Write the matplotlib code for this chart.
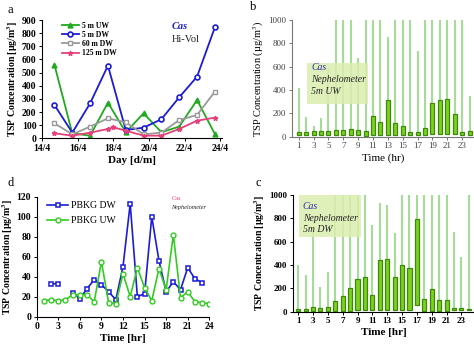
import numpy as np
import matplotlib
matplotlib.use('Agg')
import matplotlib.pyplot as plt
import matplotlib.patches as patches

plt.rcParams['font.family'] = ['Liberation Serif', 'DejaVu Serif']
plt.rcParams['mathtext.fontset'] = 'stix'

# ---- panel a : Hi-Vol daily TSP ----
days = [14.7, 15.7, 16.7, 17.7, 18.7, 19.7, 20.7, 21.7, 22.7, 23.7]
uw5 = [558, 38, 20, 271, 46, 190, 46, 89, 291, 33]
dw5 = [253, 43, 266, 553, 63, 81, 145, 312, 469, 844]
dw60 = [114, 30, 89, 152, 122, 30, 43, 139, 177, 355]
days125 = [14.7, 15.7, 16.7, 17.7, 18.0, 18.7, 19.7, 20.7, 21.7, 22.7, 23.7]
dw125 = [38, 20, 43, 71, 84, 58, 20, 20, 71, 134, 157]
day_ticks = [14, 16, 18, 20, 22, 24]
day_labels = ['14/4', '16/4', '18/4', '20/4', '22/4', '24/4']

# ---- panel b / c : nephelometer hourly box-whisker ----
hours = np.arange(1, 25)
b_top = [43, 40, 46, 46, 51, 54, 57, 66, 57, 51, 177, 128, 314, 115, 92, 37,
         37, 77, 286, 314, 320, 194, 37, 49]
b_low = [14, 14, 14, 14, 14, 16, 16, 16, 16, 5, 18, 18, 18, 18, 18, 14,
         14, 18, 20, 20, 20, 20, 14, 16]
b_whisk = [415, 166, 92, 157, 586, 1000, 1000, 1000, 672, 1000, 1000, 1000,
           857, 1000, 1000, 1000, 734, 1000, 1000, 1000, 1000, 1000, 1000, 351]

c_top = [20, 20, 40, 35, 40, 88, 134, 207, 277, 298, 141, 443, 452, 300,
         400, 377, 792, 106, 194, 100, 100, 35, 28, 22]
c_low = [5, 5, 5, 5, 5, 8, 10, 10, 12, 12, 12, 12, 12, 12, 12, 12, 57, 10,
         10, 10, 10, 15, 15, 15]
c_whisk = [400, 314, 720, 214, 343, 1000, 1000, 1000, 1000, 1000, 745, 930,
           913, 674, 1000, 1000, 1000, 1000, 1000, 1000, 1000, 686, 471, 1000]

# ---- panel d : PBKG hourly ----
hr_d = np.arange(1, 25)
pbkg_dw = [np.nan, 33, 33, np.nan, 24, 18, 28, 37, 32, 25, 17, 50, 113, 20,
           23, 100, 56, 25, 35, 27, 49, 38, 34, np.nan]
pbkg_uw = [16, 17, 16, 17, 22, 22, 22, 15, 55, 14, 13, 43, 20, 49, 29, 16,
           48, 27, 82, 19, 25, 15, 14, 13]

W, H = 474, 345
fig = plt.figure(figsize=(W / 100, H / 100), dpi=100)


def ax_at(x0, y0, x1, y1):
    # pixel box (left, top, right, bottom) -> figure axes
    return fig.add_axes([x0 / W, 1 - y1 / H, (x1 - x0) / W, (y1 - y0) / H])


def strip(ax, col='black'):
    ax.spines['top'].set_visible(False)
    ax.spines['right'].set_visible(False)
    for s in ('left', 'bottom'):
        ax.spines[s].set_color(col)
        ax.spines[s].set_linewidth(0.8)
    ax.tick_params(length=2.5, width=0.7, pad=1.5, colors=col)


# a
ax1 = ax_at(42, 20, 222, 138.3)
ax1.plot(days, uw5, '-^', color='#1faa1f', ms=3.5, lw=1.3, label='5 m UW')
ax1.plot(days, dw5, '-o', color='#1c1cd6', ms=3.5, lw=1.3, mfc='white', mew=1.2, label='5 m DW')
ax1.plot(days, dw60, '-s', color='#9a9a9a', ms=3.5, lw=1.3, mfc='white', mew=1.0, label='60 m DW')
ax1.plot(days125, dw125, '-*', color='#e6407a', ms=3.5, lw=1.3, label='125 m DW')
ax1.set_xlim(14, 24.1)
ax1.set_ylim(0, 900)
ax1.set_xticks(day_ticks)
ax1.set_xticklabels(day_labels)
ax1.set_yticks(range(0, 901, 100))
strip(ax1)
for t in ax1.get_xticklabels() + ax1.get_yticklabels():
    t.set_fontweight('bold')
    t.set_fontsize(7)
ax1.set_xlabel('Day [d/m]', fontsize=8, fontweight='bold', labelpad=2)
ax1.set_ylabel('TSP Concentration [µg/m$^\\mathbf{3}$]', fontsize=7, fontweight='bold', labelpad=1)
leg = ax1.legend(loc='upper left', bbox_to_anchor=(0.08, 1.03), frameon=False,
                 prop={'size': 5.5, 'weight': 'bold'}, handlelength=2.2,
                 labelspacing=0.15, borderpad=0.2, handletextpad=0.4)
ax1.text(0.72, 0.92, 'Cas', transform=ax1.transAxes, color='#2020cc',
         fontsize=7.5, fontstyle='italic', fontweight='bold')
ax1.text(0.72, 0.81, 'Hi-Vol', transform=ax1.transAxes, color='#222222', fontsize=7.5)
fig.text(8 / W, 1 - 10 / H, 'a', fontsize=9, va='center')


def boxes(ax, top, low, whisk):
    ax.vlines(hours, low, whisk, color='#84d470', lw=1.2, alpha=0.9, zorder=1)
    ax.bar(hours, np.array(top) - np.array(low), bottom=low, width=0.55,
           color='#7cd11c', edgecolor='#3b8a0b', linewidth=0.9, zorder=3)


# b
ax2 = ax_at(292, 20, 474, 136.7)
boxes(ax2, b_top, b_low, b_whisk)
ax2.add_patch(patches.Rectangle((2.1, 280), 8.2, 350, facecolor='#dbeeb0',
                                edgecolor='none', alpha=0.85, zorder=2))
ax2.text(2.7, 570, 'Cas', color='#2a2aa8', fontsize=7, fontstyle='italic', zorder=4)
ax2.text(2.7, 470, 'Nephelometer', color='#222222', fontsize=7, fontstyle='italic', zorder=4)
ax2.text(2.7, 370, '5m UW', color='#222222', fontsize=7, fontstyle='italic', zorder=4)
ax2.set_xlim(0.1, 24.6)
ax2.set_ylim(0, 1000)
ax2.set_xticks(range(1, 24, 2))
ax2.set_yticks(range(0, 1001, 200))
strip(ax2, '#777777')
ax2.tick_params(labelsize=6.5, labelcolor='#444444')
ax2.set_xlabel('Time (hr)', fontsize=8, labelpad=2)
ax2.set_ylabel('TSP Concentration (µg/m$^3$)', fontsize=7.5, labelpad=2)
fig.text(250 / W, 1 - 7 / H, 'b', fontsize=9, va='center')

# c
ax3 = ax_at(293, 195, 474, 311.7)
boxes(ax3, c_top, c_low, c_whisk)
ax3.add_patch(patches.Rectangle((1.1, 643), 8.3, 357, facecolor='#dbeeb0',
                                edgecolor='none', alpha=0.85, zorder=2))
ax3.text(1.6, 880, 'Cas', color='#2a2aa8', fontsize=7, fontstyle='italic', zorder=4)
ax3.text(1.6, 780, 'Nephelometer', color='#222222', fontsize=7, fontstyle='italic', zorder=4)
ax3.text(1.6, 680, '5m DW', color='#222222', fontsize=7, fontstyle='italic', zorder=4)
ax3.set_xlim(0.3, 24.7)
ax3.set_ylim(0, 1000)
ax3.set_xticks(range(1, 24, 2))
ax3.set_yticks(range(0, 1001, 200))
strip(ax3)
for t in ax3.get_xticklabels() + ax3.get_yticklabels():
    t.set_fontweight('bold')
    t.set_fontsize(6.5)
ax3.set_xlabel('Time [hr]', fontsize=8, fontweight='bold', labelpad=2)
ax3.set_ylabel('TSP Concentration [µg/m$^\\mathbf{3}$]', fontsize=7, fontweight='bold', labelpad=2)
fig.text(256 / W, 1 - 183 / H, 'c', fontsize=9, va='center')

# d
ax4 = ax_at(36.7, 196.7, 209.3, 316.7)
ax4.plot(hr_d, pbkg_dw, '-s', color='#1c1cd6', ms=3.5, lw=1.2, mfc='white', mew=1.1, label='PBKG DW')
ax4.plot(hr_d, pbkg_uw, '-o', color='#33cc22', ms=3.5, lw=1.2, mfc='white', mew=1.0, label='PBKG UW')
ax4.set_xlim(0, 24)
ax4.set_ylim(0, 120)
ax4.set_xticks(range(0, 25, 3))
ax4.set_yticks(range(0, 121, 20))
strip(ax4)
for t in ax4.get_xticklabels() + ax4.get_yticklabels():
    t.set_fontweight('bold')
    t.set_fontsize(7)
ax4.set_xlabel('Time [hr]', fontsize=8, fontweight='bold', labelpad=2)
ax4.set_ylabel('TSP Concentration [µg/m$^\\mathbf{3}$]', fontsize=7, fontweight='bold', labelpad=1)
ax4.legend(loc='upper left', bbox_to_anchor=(0.02, 1.02), frameon=False,
           prop={'size': 7}, handlelength=2.2, labelspacing=0.6,
           borderpad=0.2, handletextpad=0.3)
ax4.text(0.78, 0.97, 'Cas', transform=ax4.transAxes, color='#e0407a', fontsize=4.5)
ax4.text(0.78, 0.90, 'Nephelometer', transform=ax4.transAxes, color='#222222',
         fontsize=4.5, fontstyle='italic')
fig.text(7 / W, 1 - 183 / H, 'd', fontsize=9, va='center')

fig.savefig('out.png', dpi=100)
